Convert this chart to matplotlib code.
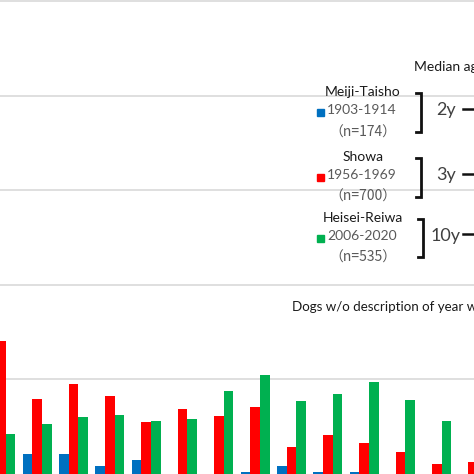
import matplotlib
matplotlib.use('Agg')
import matplotlib.pyplot as plt
import numpy as np

# counts per age class (visible part of the chart)
groups = np.arange(14)
meiji = [0, 2.1, 2.1, 0.85, 1.45, 0, 0, 0.25, 0.85, 0.25, 0.25, 0, 0, 0]
showa = [14.1, 7.9, 9.5, 8.25, 5.5, 6.9, 6.1, 7.1, 2.85, 4.1, 3.25, 2.3, 1.05, 1.25]
heisei = [4.25, 5.25, 6.05, 6.25, 5.65, 5.85, 8.75, 10.45, 7.7, 8.45, 9.7, 7.85, 5.65, 0]

periods = ['Meiji-Taisho', 'Showa', 'Heisei-Reiwa']
years = ['1903-1914', '1956-1969', '2006-2020']
ns = ['（n=174）', '（n=700）', '（n=535）']
medians = ['2y', '3y', '10y']
colors = ['#0070c0', '#ff0000', '#00b050']

W = 474.0


def fx(px):
  return px / W


def fy(py):
  return 1 - py / W


fig = plt.figure(figsize=(4.74, 4.74), dpi=100)
ax = fig.add_axes([0, 0, 1, 1])
w = 0.266
ax.bar(groups - w, meiji, w, color=colors[0], zorder=2)
ax.bar(groups, showa, w, color=colors[1], zorder=2)
ax.bar(groups + w, heisei, w, color=colors[2], zorder=2)

ax.set_xlim(-0.02, 13.02)
ax.set_ylim(0, 50.15)
ax.set_yticks([10, 20, 30, 40, 50])
ax.set_xticks([])
ax.yaxis.grid(True, color='#d9d9d9', lw=1.2)
ax.set_axisbelow(True)
ax.tick_params(left=False, labelleft=False)
for s in ax.spines.values():
  s.set_visible(False)

lab_font = ['Lato', 'Noto Sans CJK JP']
ax.text(fx(414), fy(67), 'Median age', transform=ax.transAxes, fontsize=10,
        family=lab_font, color='#1a1a1a', va='center', ha='left')
ax.text(fx(292), fy(307), 'Dogs w/o description of year when', transform=ax.transAxes,
        fontsize=9.6, family=lab_font, color='#1a1a1a', va='center', ha='left')

row_top = [92.3, 157, 217.7]
for i in range(3):
  y0 = row_top[i]
  ax.text(fx(363), fy(y0), periods[i], transform=ax.transAxes, fontsize=10,
          family=lab_font, color='#1a1a1a', va='center', ha='center')
  ax.text(fx(362), fy(y0 + 18), years[i], transform=ax.transAxes, fontsize=10,
          family=lab_font, color='#595959', va='center', ha='center')
  ax.text(fx(363), fy(y0 + 40), ns[i], transform=ax.transAxes, fontsize=10,
          family=['Noto Sans CJK JP'], color='#595959', va='center', ha='center')
  # colour key
  ax.add_patch(plt.Rectangle((fx(317), fy(y0 + 24)), fx(7), fx(7), transform=ax.transAxes,
                             color=colors[i], zorder=3))
  # bracket
  bx = 420.5 + (2.5 if i == 2 else 0)
  bt, bb = y0 + 1, y0 + 39.5
  ax.plot([fx(bx - 5), fx(bx), fx(bx), fx(bx - 5)], [fy(bt), fy(bt), fy(bb), fy(bb)],
          transform=ax.transAxes, color='#111111', lw=2, solid_joinstyle='miter', zorder=3)
  ax.text(fx(446), fy(y0 + 18), medians[i], transform=ax.transAxes, fontsize=13,
          family=lab_font, color='#404040', va='center', ha='center')
  ax.plot([fx(463), fx(476)], [fy(y0 + 16.5), fy(y0 + 16.5)], transform=ax.transAxes,
          color='#111111', lw=1.8, zorder=3)

fig.savefig('out.png', dpi=100)
